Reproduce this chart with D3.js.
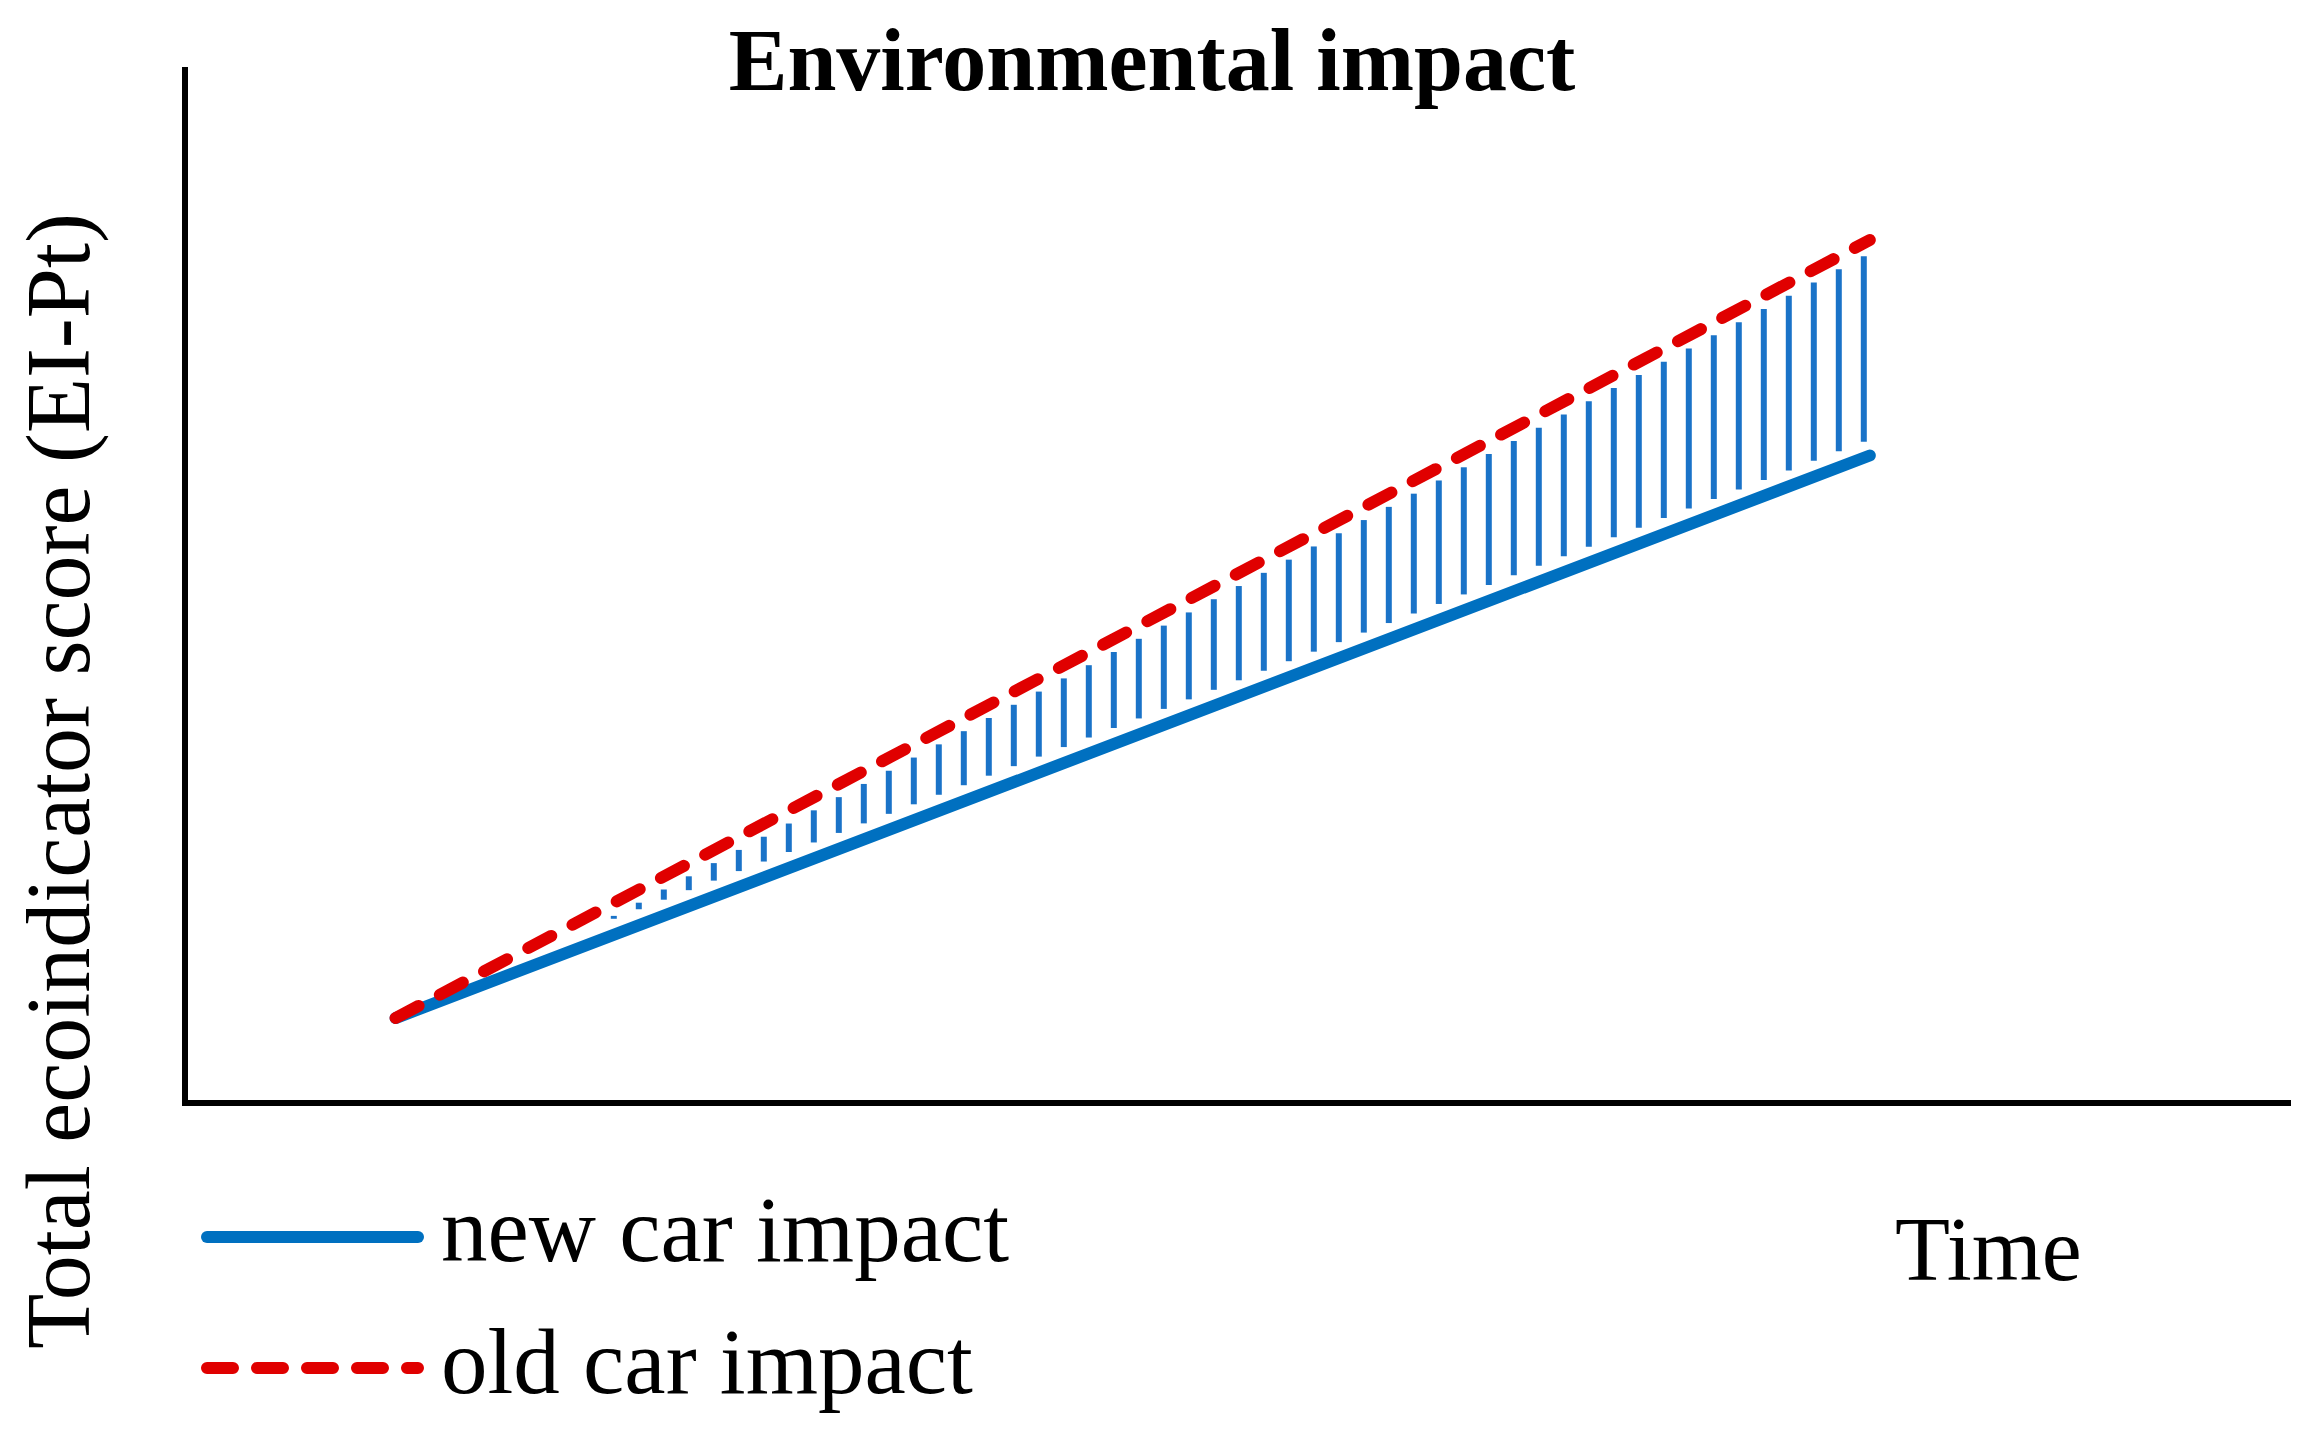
<html>
  <head>
    <style>
      body { margin: 0; background: #fff; }
      text { font-family: "Palatino Linotype", "Book Antiqua", Palatino, "Liberation Serif", serif; fill: #000; }
      .title-text { font-size: 88px; font-weight: 700; }
      .label-text { font-size: 90px; }
      .legend-text { font-size: 93px; }
    </style>
  </head>
  <body>
    <div id="chart"></div>
    <script src="https://d3js.org/d3.v7.min.js"></script>
    <script>
      // values (arbitrary units, axis runs 0..100)
      var timePoints = [10, 80];
      var newCar = [8.2, 62.5];
      var oldCar = [8.2, 83.3];
      var seriesNames = ["new car impact", "old car impact"];
      var title = "Environmental impact";
      var yLabel = "Total ecoindicator score (EI-Pt)";
      var xLabel = "Time";

      var width = 2322, height = 1438;
      var blue = "#0070c0", hatchBlue = "#1a73c8", red = "#e00000";

      var x = d3.scaleLinear().domain([0, 100]).range([185, 2291]);
      var y = d3.scaleLinear().domain([0, 100]).range([1103, 67]);

      var svg = d3.select("#chart").append("svg")
        .attr("width", width)
        .attr("height", height);

      // axes: plain L shape, no ticks
      svg.append("path")
        .attr("d", "M" + x(0) + "," + y(100) + "V" + y(0) + "H" + x(100))
        .attr("fill", "none")
        .attr("stroke", "#000")
        .attr("stroke-width", 6);

      var newPts = timePoints.map(function(t, i) { return [t, newCar[i]]; });
      var oldPts = timePoints.map(function(t, i) { return [t, oldCar[i]]; });

      var newAt = d3.scaleLinear().domain(timePoints).range(newCar);
      var oldAt = d3.scaleLinear().domain(timePoints).range(oldCar);

      // vertical hatch between the two lines, every 25px back from the end
      var x0 = x(timePoints[0]), x1 = x(timePoints[1]);
      var hatchX = d3.range(x1 - 6, x0, -25);
      svg.append("g").selectAll("line")
        .data(hatchX)
        .enter()
        .append("line")
        .attr("x1", function(d) { return d; })
        .attr("x2", function(d) { return d; })
        .attr("y1", function(d) { return y(oldAt(x.invert(d))) + 13; })
        .attr("y2", function(d) {
          var top = y(oldAt(x.invert(d))) + 13;
          var bot = y(newAt(x.invert(d))) - 16;
          return Math.max(top, bot);
        })
        .attr("stroke", hatchBlue)
        .attr("stroke-width", 6);

      var line = d3.line()
        .x(function(d) { return x(d[0]); })
        .y(function(d) { return y(d[1]); });

      svg.append("path")
        .attr("d", line(newPts))
        .attr("fill", "none")
        .attr("stroke", blue)
        .attr("stroke-width", 12)
        .attr("stroke-linecap", "round");

      svg.append("path")
        .attr("d", line(oldPts))
        .attr("fill", "none")
        .attr("stroke", red)
        .attr("stroke-width", 12)
        .attr("stroke-linecap", "round")
        .attr("stroke-dasharray", "26,24");

      // title
      svg.append("text")
        .attr("class", "title-text")
        .attr("x", 1152)
        .attr("y", 90)
        .attr("text-anchor", "middle")
        .text(title);

      // y label
      svg.append("text")
        .attr("class", "label-text")
        .attr("transform", "translate(89,781) rotate(-90)")
        .attr("text-anchor", "middle")
        .text(yLabel);

      // x label
      svg.append("text")
        .attr("class", "label-text")
        .attr("x", 1895)
        .attr("y", 1280)
        .text(xLabel);

      // legend
      var legend = svg.append("g");
      var rows = [
        { name: seriesNames[0], color: blue, dash: null, y: 1237, ty: 1261 },
        { name: seriesNames[1], color: red, dash: "26,24", y: 1368, ty: 1393 }
      ];
      rows.forEach(function(r) {
        legend.append("line")
          .attr("x1", 207).attr("x2", 418)
          .attr("y1", r.y).attr("y2", r.y)
          .attr("stroke", r.color)
          .attr("stroke-width", 12)
          .attr("stroke-linecap", "round")
          .attr("stroke-dasharray", r.dash);
        legend.append("text")
          .attr("class", "legend-text")
          .attr("x", 441)
          .attr("y", r.ty)
          .text(r.name);
      });
    </script>
  </body>
</html>
